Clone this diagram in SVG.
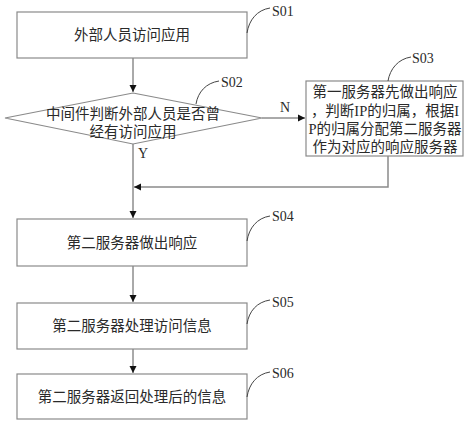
<svg xmlns="http://www.w3.org/2000/svg" width="474" height="424" viewBox="0 0 474 424">
<style>
.box{fill:#fff;stroke:#8a8a8a;stroke-width:1.2}
.t{font-family:"Liberation Serif","Noto Sans CJK SC",serif;font-size:14.5px;fill:#2a2a2a;text-anchor:middle}
.lbl{font-family:"Liberation Serif",serif;font-size:14px;fill:#2a2a2a}
.ln{fill:none;stroke:#555;stroke-width:1}
.cv{fill:none;stroke:#444;stroke-width:1}
</style>
<defs>
<marker id="ah" markerWidth="8" markerHeight="8" refX="7" refY="4" orient="auto" markerUnits="userSpaceOnUse">
<path d="M0,0.5 L7,4 L0,7.5 Z" fill="#111"/>
</marker>
</defs>
<g id="connectors">
<path class="ln" d="M133,58 V92" marker-end="url(#ah)"/>
<path class="ln" d="M262,118 H305" marker-end="url(#ah)"/>
<path class="ln" d="M388,156 V187 H134" stroke="#888" stroke-width="1.5" style="stroke:#8a8a8a;stroke-width:1.5" marker-end="url(#ah)"/>
<path class="ln" d="M133,144 V218" marker-end="url(#ah)"/>
<path class="ln" d="M133,266 V302" marker-end="url(#ah)"/>
<path class="ln" d="M133,349 V373" marker-end="url(#ah)"/>
<text class="lbl" x="280" y="112">N</text>
<text class="lbl" x="138" y="158">Y</text>
</g>
<g id="S01">
<rect class="box" x="17" y="12" width="230" height="46"/>
<text class="t" x="132" y="40">外部人员访问应用</text>
<path class="cv" d="M247,33 C249,20 257,10 270,8"/>
<text class="lbl" x="272" y="16">S01</text>
</g>
<g id="S02">
<polygon class="box" points="133,93 262,118 133,144 5,118"/>
<text class="t" x="133" y="119">中间件判断外部人员是否曾</text>
<text class="t" x="133" y="137">经有访问应用</text>
<path class="cv" d="M196,104 C198,92 206,83 219,81"/>
<text class="lbl" x="221" y="87">S02</text>
</g>
<g id="S03">
<rect class="box" x="306" y="81" width="157" height="75"/>
<text class="t" x="385" y="97">第一服务器先做出响应</text>
<text class="t" x="385" y="116">，判断IP的归属，根据I</text>
<text class="t" x="385" y="134">P的归属分配第二服务器</text>
<text class="t" x="385" y="152">作为对应的响应服务器</text>
<path class="cv" d="M388,81 C390,69 398,59 411,57"/>
<text class="lbl" x="412" y="63">S03</text>
</g>
<g id="S04">
<rect class="box" x="17" y="219" width="230" height="47"/>
<text class="t" x="132" y="248">第二服务器做出响应</text>
<path class="cv" d="M247,241 C249,228 257,218 270,216"/>
<text class="lbl" x="272" y="221">S04</text>
</g>
<g id="S05">
<rect class="box" x="17" y="303" width="230" height="46"/>
<text class="t" x="132" y="331">第二服务器处理访问信息</text>
<path class="cv" d="M247,324 C249,311 257,302 270,300"/>
<text class="lbl" x="272" y="307">S05</text>
</g>
<g id="S06">
<rect class="box" x="17" y="374" width="230" height="45"/>
<text class="t" x="132" y="402">第二服务器返回处理后的信息</text>
<path class="cv" d="M247,397 C249,384 257,374 270,372"/>
<text class="lbl" x="272" y="378">S06</text>
</g>
</svg>
